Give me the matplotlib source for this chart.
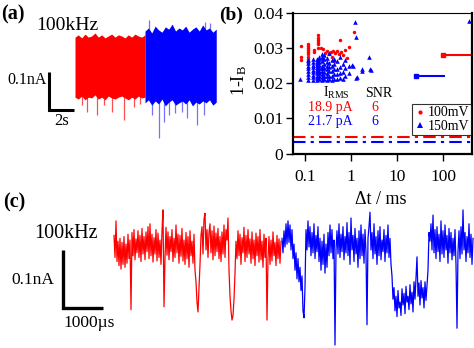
import os
import numpy as np
import matplotlib
matplotlib.use("Agg")
import matplotlib.pyplot as plt
from matplotlib import font_manager as fm

# make sure Liberation Serif (Times-like) is registered
SERIF = 'Liberation Serif'
for f in fm.findSystemFonts():
    if os.path.basename(f).lower().startswith('liberationserif'):
        try:
            fm.fontManager.addfont(f)
            SERIF = fm.FontProperties(fname=f).get_name()
        except Exception:
            pass
plt.rcParams['font.family'] = [SERIF, 'DejaVu Serif']
plt.rcParams['mathtext.fontset'] = 'custom'
plt.rcParams['mathtext.rm'] = SERIF
plt.rcParams['mathtext.it'] = SERIF + ':italic'
plt.rcParams['mathtext.bf'] = SERIF + ':bold'

# ---------------- data ----------------
# panel (a): long traces at 100 kHz, envelope of the noise band (nA) and spikes
a_red_hi = [0.076, 0.082, 0.074, 0.084, 0.076, 0.079, 0.087, 0.076, 0.082, 0.074, 0.079,
            0.084, 0.076, 0.082, 0.079, 0.074, 0.082, 0.076, 0.084, 0.079, 0.076, 0.082]
a_red_lo = [-0.082, -0.087, -0.079, -0.089, -0.082, -0.084, -0.076, -0.087, -0.082, -0.089, -0.079,
            -0.084, -0.087, -0.082, -0.079, -0.084, -0.089, -0.082, -0.087, -0.079, -0.084, -0.082]
a_blue_hi = [0.092, 0.100, 0.087, 0.105, 0.095, 0.089, 0.103, 0.097, 0.110, 0.092, 0.100,
             0.095, 0.105, 0.089, 0.097, 0.103, 0.092, 0.108, 0.095, 0.100, 0.089, 0.097]
a_blue_lo = [-0.097, -0.089, -0.103, -0.092, -0.100, -0.087, -0.105, -0.095, -0.089, -0.103, -0.097,
             -0.092, -0.100, -0.089, -0.105, -0.095, -0.100, -0.092, -0.097, -0.089, -0.103, -0.095]
a_red_span = (0.0, 5.6)      # s
a_blue_span = (5.6, 11.3)    # s
a_red_spk_t = [0.56, 0.96, 1.76, 2.30, 2.96, 3.90, 4.70, 5.20]
a_red_spk_v = [-0.103, -0.121, -0.129, -0.103, -0.121, -0.142, -0.108, -0.100]
a_blue_spk_t = [6.16, 6.72, 7.10, 7.50, 8.00, 8.56, 8.96, 9.76, 10.30, 5.92, 7.76, 10.40, 10.80]
a_blue_spk_v = [-0.129, -0.189, -0.147, -0.129, -0.124, -0.121, -0.137, -0.155, -0.129,
                0.121, 0.108, 0.116, 0.113]

# panel (b): event statistics
red_dt = [0.081, 0.081, 0.081, 0.118, 0.118, 0.118, 0.118, 0.118, 0.118, 0.118, 0.118, 0.118, 0.118,
          0.16, 0.16, 0.195, 0.195, 0.195, 0.195, 0.195, 0.195,
          0.22, 0.25, 0.27, 0.30, 0.33, 0.36, 0.38, 0.40, 0.44, 0.50, 0.58, 0.55, 0.62, 0.74,
          0.80, 0.91, 1.13, 0.24, 0.42, 0.68]
red_ib = [0.0307, 0.0274, 0.0267, 0.0313, 0.0307, 0.0300, 0.0294, 0.0288, 0.0282, 0.0276, 0.0270, 0.0264, 0.0258,
          0.0295, 0.0288, 0.0336, 0.0330, 0.0324, 0.0318, 0.0312, 0.0300,
          0.0300, 0.0298, 0.0287, 0.0292, 0.0283, 0.0288, 0.0276, 0.0292, 0.0286, 0.0293, 0.0324, 0.0283, 0.0290, 0.0295,
          0.0273, 0.0302, 0.0345, 0.0268, 0.0262, 0.0280]
blue_dt = [0.079,
           0.118, 0.118, 0.118, 0.118, 0.118, 0.118, 0.118, 0.118,
           0.148, 0.148, 0.148, 0.148, 0.148, 0.148, 0.148, 0.148, 0.148,
           0.18, 0.18, 0.18, 0.18, 0.18, 0.18, 0.18, 0.18, 0.18, 0.18, 0.18,
           0.20, 0.20, 0.20, 0.20, 0.20, 0.20, 0.20, 0.20, 0.20,
           0.23, 0.23, 0.23, 0.23, 0.23, 0.23, 0.23, 0.23, 0.23,
           0.26, 0.26, 0.26, 0.26, 0.26, 0.26, 0.26,
           0.30, 0.30, 0.30, 0.30, 0.30, 0.30, 0.30,
           0.34, 0.34, 0.34, 0.34, 0.34, 0.34,
           0.38, 0.38, 0.38, 0.38, 0.38,
           0.43, 0.43, 0.43, 0.43, 0.43,
           0.50, 0.50, 0.50, 0.50,
           0.58, 0.58, 0.58, 0.58,
           0.66, 0.66, 0.66,
           0.75, 0.75, 0.75,
           0.90, 0.90, 1.03, 1.10, 1.22, 1.26, 1.30, 1.36, 1.70, 1.75, 2.45, 2.60, 2.70, 370.0]
blue_ib = [0.0213,
           0.0210, 0.0218, 0.0226, 0.0234, 0.0242, 0.0250, 0.0258, 0.0265,
           0.0210, 0.0217, 0.0224, 0.0231, 0.0238, 0.0245, 0.0252, 0.0260, 0.0268,
           0.0210, 0.0216, 0.0222, 0.0228, 0.0234, 0.0240, 0.0246, 0.0252, 0.0258, 0.0264, 0.0270,
           0.0212, 0.0220, 0.0228, 0.0236, 0.0244, 0.0252, 0.0260, 0.0268, 0.0276,
           0.0210, 0.0218, 0.0226, 0.0234, 0.0242, 0.0250, 0.0262, 0.0275, 0.0283,
           0.0212, 0.0222, 0.0232, 0.0242, 0.0255, 0.0268, 0.0280,
           0.0210, 0.0220, 0.0230, 0.0240, 0.0250, 0.0260, 0.0272,
           0.0212, 0.0222, 0.0234, 0.0246, 0.0258, 0.0285,
           0.0210, 0.0222, 0.0236, 0.0250, 0.0265,
           0.0213, 0.0226, 0.0240, 0.0255, 0.0270,
           0.0212, 0.0225, 0.0240, 0.0262,
           0.0215, 0.0230, 0.0245, 0.0275,
           0.0212, 0.0232, 0.0255,
           0.0220, 0.0242, 0.0265,
           0.0228, 0.0250, 0.0251, 0.0250, 0.0375, 0.0331, 0.0215, 0.0218, 0.0241, 0.0236, 0.0274, 0.0241, 0.0237, 0.0378]
red_mean_dt = [100.0, 480.0]
red_mean_ib = [0.0281, 0.0281]
blue_mean_dt = [26.0, 105.0]
blue_mean_ib = [0.0222, 0.0222]
red_thresh = 0.0047
blue_thresh = 0.0033
irms_labels = ["18.9 pA", "21.7 pA"]
snr_labels = ["6", "6"]
legend_labels = ["100mV", "150mV"]

# panel (c): zoomed traces, 25 us per sample, current in pA
c_dt = 25.0
c_red = [20, -18, 45, -25, 10, -32, 15, -38, 8, -30, 18, -35,
         5, -28, 22, -20, 12, -108, 25, -15, 30, -22, 14, -10,
         28, -18, 20, -25, 32, -12, 18, -22, 26, -8, 35, -20,
         40, -15, 22, -26, 16, -12, 30, -24, 24, -18, 12, -30,
         28, 64, -103, -20, 34, -14, 26, -22, 18, -8, 30, -25,
         15, -18, 38, -10, 22, -28, 20, -16, 32, -24, 12, -30,
         25, -20, 18, -35, 28, -15, 10, -28, 22, -40, -60, -95,
         -112, -70, -30, 20, 35, -12, 48, 58, -5, 30, -18, 25,
         40, -10, 28, -22, 36, -15, 24, -8, 32, -20, 18, -25,
         26, -12, 38, -18, 30, 12, 50, -40, -85, -110, -126, -118,
         -90, -45, 10, -20, 28, -15, 22, -30, 16, -10, 34, -25,
         20, -18, 30, -12, 14, -28, 26, -20, 12, -32, 24, -15,
         18, -26, 30, -22, 10, -35, 22, -18, 15, -126, -20, 18,
         -30, 12, -24, 26, -15, 8, -32, 20, -20, 14, -28, 10]
c_blue = [15, -10, 28, 0, 40, 5, 45, 8, 38, -5, 30, -20,
          5, -40, -10, -55, -20, -60, -35, -75, -50, -110, -122, -70,
          30, -5, 45, 0, 35, -15, 25, -10, 40, -20, 20, -8,
          35, -25, 15, -40, 10, -30, 22, -45, 5, -35, 25, -15,
          38, -10, 30, -20, 12, -169, -5, 28, -12, 40, -18, 22,
          -8, 35, -22, 18, -10, 42, -15, 25, -30, 50, -5, 20,
          -25, 32, -12, 15, -35, 28, -20, 38, -15, 22, -28, 30,
          -10, -134, 15, 35, 60, -5, 25, -20, 40, -12, 18, -30,
          28, -15, 35, -22, 12, -8, 30, -25, 20, -10, 38, -18,
          15, -30, -50, -90, -70, -110, -85, -120, -75, -105, -95, -118,
          -72, -100, -80, -115, -68, -95, -85, -108, -65, -98, -78, -112,
          -60, -90, -55, -17, -85, -62, -100, -58, -88, -70, -105, -60,
          -92, -65, -40, 25, 10, 40, -5, 55, -10, 30, -20, 35,
          -8, 22, -25, 45, -12, 28, -18, 38, -5, 20, -28, 32,
          -10, 25, -22, 15, -15, 30, -30, -140, -8, 28, -20, 35,
          -12, 64, -5, 25, -25, 18, -10, 40, -18, 22, -30, 15]

RED = '#ff0000'
BLUE = '#0000ff'

W, H = 474, 348
fig = plt.figure(figsize=(W / 100, H / 100), dpi=100)


def fx(x):
    return x / W


def fy(y):
    return 1 - y / H


# ---------------- panel (a) ----------------
axA = fig.add_axes([0, fy(150), fx(230), 150 / H])
axA.axis('off')
axA.set_xlim(-6.0, 12.4)
axA.set_ylim(-0.221, 0.1737)
tr = np.linspace(a_red_span[0], a_red_span[1], len(a_red_hi))
tb = np.linspace(a_blue_span[0], a_blue_span[1], len(a_blue_hi))
axA.vlines(a_red_spk_t, 0, a_red_spk_v, color=RED, lw=0.9, alpha=0.7)
axA.vlines(a_blue_spk_t, 0, a_blue_spk_v, color=BLUE, lw=0.9, alpha=0.55)
axA.fill_between(tr, a_red_lo, a_red_hi, color=RED, lw=0)
axA.fill_between(tb, a_blue_lo, a_blue_hi, color=BLUE, lw=0)
# scale bar: 0.1 nA, 2 s
axA.plot([-2.08, -2.08, -0.08], [-0.0157, -0.1157, -0.1157], color='k', lw=2.2,
         solid_joinstyle='miter', solid_capstyle='butt')
fig.text(fx(67), fy(25), '100kHz', fontsize=14, ha='center', va='center')
fig.text(fx(27.5), fy(80), '0.1nA', fontsize=11.5, ha='center', va='center')
fig.text(fx(62), fy(121), '2s', fontsize=12, ha='center', va='center')
fig.text(fx(13), fy(14), '(a)', fontsize=14.5, fontweight='bold', ha='center', va='center')

# ---------------- panel (b) ----------------
axB = fig.add_axes([fx(293), fy(153.5), fx(472 - 293), (153.5 - 13) / H])
axB.set_xscale('log')
hr, = axB.plot(red_dt, red_ib, 'o', color=RED, ms=2.5, mew=0, ls='none')
hb, = axB.plot(blue_dt, blue_ib, '^', color=BLUE, ms=3.3, mew=0, ls='none')
axB.plot(red_mean_dt, red_mean_ib, color=RED, lw=1.5, marker='s', ms=3.2, markevery=[0])
axB.plot(blue_mean_dt, blue_mean_ib, color=BLUE, lw=1.5, marker='s', ms=3.2, markevery=[0])
axB.axhline(red_thresh, color=RED, lw=1.5, ls=(0, (6, 2.5, 1.5, 2.5)))
axB.axhline(blue_thresh, color=BLUE, lw=1.5, ls=(0, (6, 2.5, 1.5, 2.5)))
axB.set_xlim(0.055, 420)
axB.set_ylim(0, 0.04)
axB.set_yticks([0, 0.01, 0.02, 0.03, 0.04])
axB.set_yticklabels(['0', '0.01', '0.02', '0.03', '0.04'])
axB.set_xticks([0.1, 1, 10, 100])
axB.set_xticklabels(['0.1', '1', '10', '100'])
axB.xaxis.set_minor_formatter(matplotlib.ticker.NullFormatter())
axB.tick_params(axis='y', direction='out', length=5, width=1.0, pad=2, labelsize=12.5)
axB.tick_params(axis='x', which='major', direction='out', length=5, width=1.0, pad=6, labelsize=12.5)
axB.tick_params(axis='x', which='minor', direction='out', length=3.5, width=0.8)
for s in ['left', 'bottom', 'right']:
    axB.spines[s].set_linewidth(1.6)
axB.spines['top'].set_linewidth(0.8)
axB.set_xlabel('Δt / ms', fontsize=13)
axB.xaxis.set_label_coords((381 - 293) / 179, (153.5 - 200) / 140.5)
axB.xaxis.label.set_va('center')
axB.set_ylabel(r'1-I$_\mathrm{B}$', fontsize=13)
axB.yaxis.set_label_coords((239 - 293) / 179, 0.52)
axB.yaxis.label.set_va('center')

axB.text(0.47, 0.0171, r'I$_\mathrm{RMS}$', fontsize=10, ha='center', va='center')
axB.text(3.9, 0.0171, 'SNR', fontsize=10, ha='center', va='center')
axB.text(0.35, 0.0132, irms_labels[0], color=RED, fontsize=10, ha='center', va='center')
axB.text(3.3, 0.0132, snr_labels[0], color=RED, fontsize=10, ha='center', va='center')
axB.text(0.35, 0.0092, irms_labels[1], color=BLUE, fontsize=10, ha='center', va='center')
axB.text(3.3, 0.0092, snr_labels[1], color=BLUE, fontsize=10, ha='center', va='center')
leg = axB.legend([hr, hb], legend_labels, loc='lower right', bbox_to_anchor=(0.995, 0.13),
                 borderaxespad=0, fontsize=10, frameon=True, fancybox=False,
                 edgecolor='k', borderpad=0.15, handletextpad=0.1, handlelength=0.9,
                 labelspacing=0.05, markerscale=1.2)
leg.get_frame().set_linewidth(0.8)
fig.text(fx(231), fy(15), '(b)', fontsize=14, fontweight='bold', ha='center', va='center')

# ---------------- panel (c) ----------------
axC = fig.add_axes([0, 0, 1, (348 - 185) / H])
axC.axis('off')
axC.set_xlim(-114 * c_dt, 360 * c_dt)
axC.set_ylim(-101 * 1.724, 62 * 1.724)
t_red = np.arange(len(c_red)) * c_dt
t_blue = (len(c_red) + np.arange(len(c_blue))) * c_dt
axC.plot(t_red, c_red, color=RED, lw=0.9)
axC.plot(t_blue, c_blue, color=BLUE, lw=0.9)
# scale bar: 0.1 nA (100 pA), 1000 us
axC.plot([-1275, -1275, -275], [-5, -105, -105], color='k', lw=2.4,
         solid_joinstyle='miter', solid_capstyle='butt')
fig.text(fx(66), fy(233), '100kHz', fontsize=14.5, ha='center', va='center')
fig.text(fx(33), fy(280), '0.1nA', fontsize=12.5, ha='center', va='center')
fig.text(fx(89), fy(323), '1000µs', fontsize=12.5, ha='center', va='center')
fig.text(fx(14), fy(202), '(c)', fontsize=14.5, fontweight='bold', ha='center', va='center')

fig.savefig('out.png', dpi=100)
